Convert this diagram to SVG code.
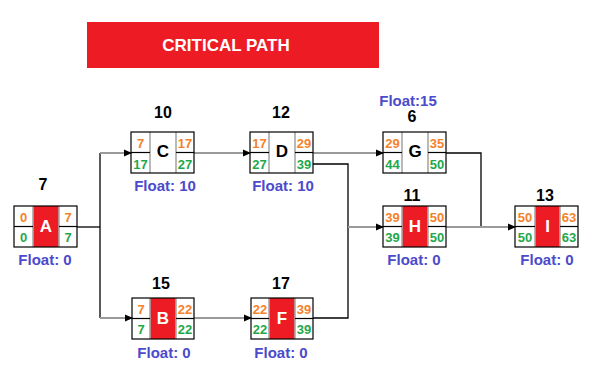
<svg xmlns="http://www.w3.org/2000/svg" width="596" height="383" viewBox="0 0 596 383">
<style>
text{font-family:"Liberation Sans",Arial,sans-serif;font-weight:bold;text-anchor:middle}
.box{fill:none;stroke:#000;stroke-width:1.2}
.red{fill:#ED1C24}
.sep{stroke:#A8A8A8;stroke-width:1.6}
.hl{stroke:#000;stroke-width:1.2}
.es{fill:#F5822A;font-size:13px}
.lf{fill:#1FA84A;font-size:13px}
.lw{fill:#fff;font-size:17px}
.lb{fill:#000;font-size:17px}
.dur{fill:#000;font-size:16px}
.fl{fill:#4B4BCB;font-size:15px}
.cg{stroke:#9A9A9A;stroke-width:2;fill:none}
.ck{stroke:#000;stroke-width:1.3;fill:none}
</style>
<defs>
<marker id="arr" markerWidth="8" markerHeight="8" refX="7" refY="4" orient="auto" markerUnits="userSpaceOnUse">
<path d="M0,0.5 L8,4 L0,7.5 Z" fill="#000"/>
</marker>
</defs>
<rect x="87" y="22" width="292" height="46" fill="#ED1C24"/>
<text x="226" y="51" style="font-size:17px;fill:#fff">CRITICAL PATH</text>

<g id="connectors">
<polyline class="ck" points="77,227 100,227"/>
<polyline class="ck" points="100,153 100,318"/>
<line class="cg" x1="100" y1="153" x2="131" y2="153" marker-end="url(#arr)"/>
<line class="cg" x1="100" y1="318" x2="132" y2="318" marker-end="url(#arr)"/>
<line class="cg" x1="194" y1="153" x2="250" y2="153" marker-end="url(#arr)"/>
<line class="cg" x1="194" y1="318" x2="251" y2="318" marker-end="url(#arr)"/>
<line class="cg" x1="313" y1="153" x2="383" y2="153" marker-end="url(#arr)"/>
<polyline class="ck" points="313,164 348,164 348,227"/>
<polyline class="ck" points="313,318 348,318 348,227"/>
<line class="cg" x1="348" y1="227" x2="383" y2="227" marker-end="url(#arr)"/>
<polyline class="ck" points="446,153 481,153 481,227"/>
<line class="cg" x1="446" y1="227" x2="515" y2="227" marker-end="url(#arr)"/>
</g>

<g id="node-A" transform="translate(14,206)">
<rect class="red" x="19" y="0" width="26" height="41"/>
<line class="sep" x1="19" y1="0" x2="19" y2="41"/><line class="sep" x1="45" y1="0" x2="45" y2="41"/>
<line class="hl" x1="0" y1="20.5" x2="19" y2="20.5"/><line class="hl" x1="45" y1="20.5" x2="63" y2="20.5"/>
<rect class="box" width="63" height="41"/>
<text class="es" x="9.5" y="15.5">0</text><text class="es" x="54" y="15.5">7</text>
<text class="lf" x="9.5" y="36">0</text><text class="lf" x="54" y="36">7</text>
<text class="lw" x="32" y="26">A</text>
<text class="dur" x="29" y="-16">7</text>
<text class="fl" x="31" y="59">Float: 0</text>
</g>

<g id="node-C" transform="translate(131,132)">
<line class="sep" x1="19" y1="0" x2="19" y2="41"/><line class="sep" x1="45" y1="0" x2="45" y2="41"/>
<line class="hl" x1="0" y1="20.5" x2="19" y2="20.5"/><line class="hl" x1="45" y1="20.5" x2="63" y2="20.5"/>
<rect class="box" width="63" height="41"/>
<text class="es" x="9.5" y="15.5">7</text><text class="es" x="54" y="15.5">17</text>
<text class="lf" x="9.5" y="37">17</text><text class="lf" x="54" y="37">27</text>
<text class="lb" x="32" y="25">C</text>
<text class="dur" x="32" y="-14">10</text>
<text class="fl" x="34" y="59">Float: 10</text>
</g>

<g id="node-D" transform="translate(250,132)">
<line class="sep" x1="19" y1="0" x2="19" y2="41"/><line class="sep" x1="45" y1="0" x2="45" y2="41"/>
<line class="hl" x1="0" y1="20.5" x2="19" y2="20.5"/><line class="hl" x1="45" y1="20.5" x2="63" y2="20.5"/>
<rect class="box" width="63" height="41"/>
<text class="es" x="9.5" y="15.5">17</text><text class="es" x="54" y="15.5">29</text>
<text class="lf" x="9.5" y="37">27</text><text class="lf" x="54" y="37">39</text>
<text class="lb" x="32" y="25">D</text>
<text class="dur" x="31" y="-14">12</text>
<text class="fl" x="33" y="59">Float: 10</text>
</g>

<g id="node-G" transform="translate(383,132)">
<line class="sep" x1="19" y1="0" x2="19" y2="41"/><line class="sep" x1="45" y1="0" x2="45" y2="41"/>
<line class="hl" x1="0" y1="20.5" x2="19" y2="20.5"/><line class="hl" x1="45" y1="20.5" x2="63" y2="20.5"/>
<rect class="box" width="63" height="41"/>
<text class="es" x="9.5" y="15.5">29</text><text class="es" x="54" y="15.5">35</text>
<text class="lf" x="9.5" y="37">44</text><text class="lf" x="54" y="37">50</text>
<text class="lb" x="32" y="25">G</text>
<text class="dur" x="29" y="-10">6</text>
<text class="fl" x="25" y="-26">Float:15</text>
</g>

<g id="node-H" transform="translate(383,206)">
<rect class="red" x="19" y="0" width="26" height="41"/>
<line class="sep" x1="19" y1="0" x2="19" y2="41"/><line class="sep" x1="45" y1="0" x2="45" y2="41"/>
<line class="hl" x1="0" y1="20.5" x2="19" y2="20.5"/><line class="hl" x1="45" y1="20.5" x2="63" y2="20.5"/>
<rect class="box" width="63" height="41"/>
<text class="es" x="9.5" y="15.5">39</text><text class="es" x="54" y="15.5">50</text>
<text class="lf" x="9.5" y="36">39</text><text class="lf" x="54" y="36">50</text>
<text class="lw" x="32" y="26">H</text>
<text class="dur" x="29" y="-5">11</text>
<text class="fl" x="31" y="59">Float: 0</text>
</g>

<g id="node-I" transform="translate(515,206)">
<rect class="red" x="20" y="0" width="25" height="41"/>
<line class="sep" x1="20" y1="0" x2="20" y2="41"/><line class="sep" x1="45" y1="0" x2="45" y2="41"/>
<line class="hl" x1="0" y1="20.5" x2="20" y2="20.5"/><line class="hl" x1="45" y1="20.5" x2="63" y2="20.5"/>
<rect class="box" width="63" height="41"/>
<text class="es" x="10" y="15.5">50</text><text class="es" x="54" y="15.5">63</text>
<text class="lf" x="10" y="36">50</text><text class="lf" x="54" y="36">63</text>
<text class="lw" x="32.5" y="26">I</text>
<text class="dur" x="30" y="-5">13</text>
<text class="fl" x="32" y="59">Float: 0</text>
</g>

<g id="node-B" transform="translate(132,298)">
<rect class="red" x="18" y="0" width="26" height="41"/>
<line class="sep" x1="18" y1="0" x2="18" y2="41"/><line class="sep" x1="44" y1="0" x2="44" y2="41"/>
<line class="hl" x1="0" y1="20.5" x2="18" y2="20.5"/><line class="hl" x1="44" y1="20.5" x2="62" y2="20.5"/>
<rect class="box" width="62" height="41"/>
<text class="es" x="9" y="15.5">7</text><text class="es" x="53" y="15.5">22</text>
<text class="lf" x="9" y="36">7</text><text class="lf" x="53" y="36">22</text>
<text class="lw" x="31" y="26">B</text>
<text class="dur" x="29" y="-9">15</text>
<text class="fl" x="32" y="60">Float: 0</text>
</g>

<g id="node-F" transform="translate(251,298)">
<rect class="red" x="18" y="0" width="26" height="41"/>
<line class="sep" x1="18" y1="0" x2="18" y2="41"/><line class="sep" x1="44" y1="0" x2="44" y2="41"/>
<line class="hl" x1="0" y1="20.5" x2="18" y2="20.5"/><line class="hl" x1="44" y1="20.5" x2="62" y2="20.5"/>
<rect class="box" width="62" height="41"/>
<text class="es" x="9" y="15.5">22</text><text class="es" x="53" y="15.5">39</text>
<text class="lf" x="9" y="36">22</text><text class="lf" x="53" y="36">39</text>
<text class="lw" x="31" y="26">F</text>
<text class="dur" x="30" y="-9">17</text>
<text class="fl" x="30" y="60">Float: 0</text>
</g>
</svg>
